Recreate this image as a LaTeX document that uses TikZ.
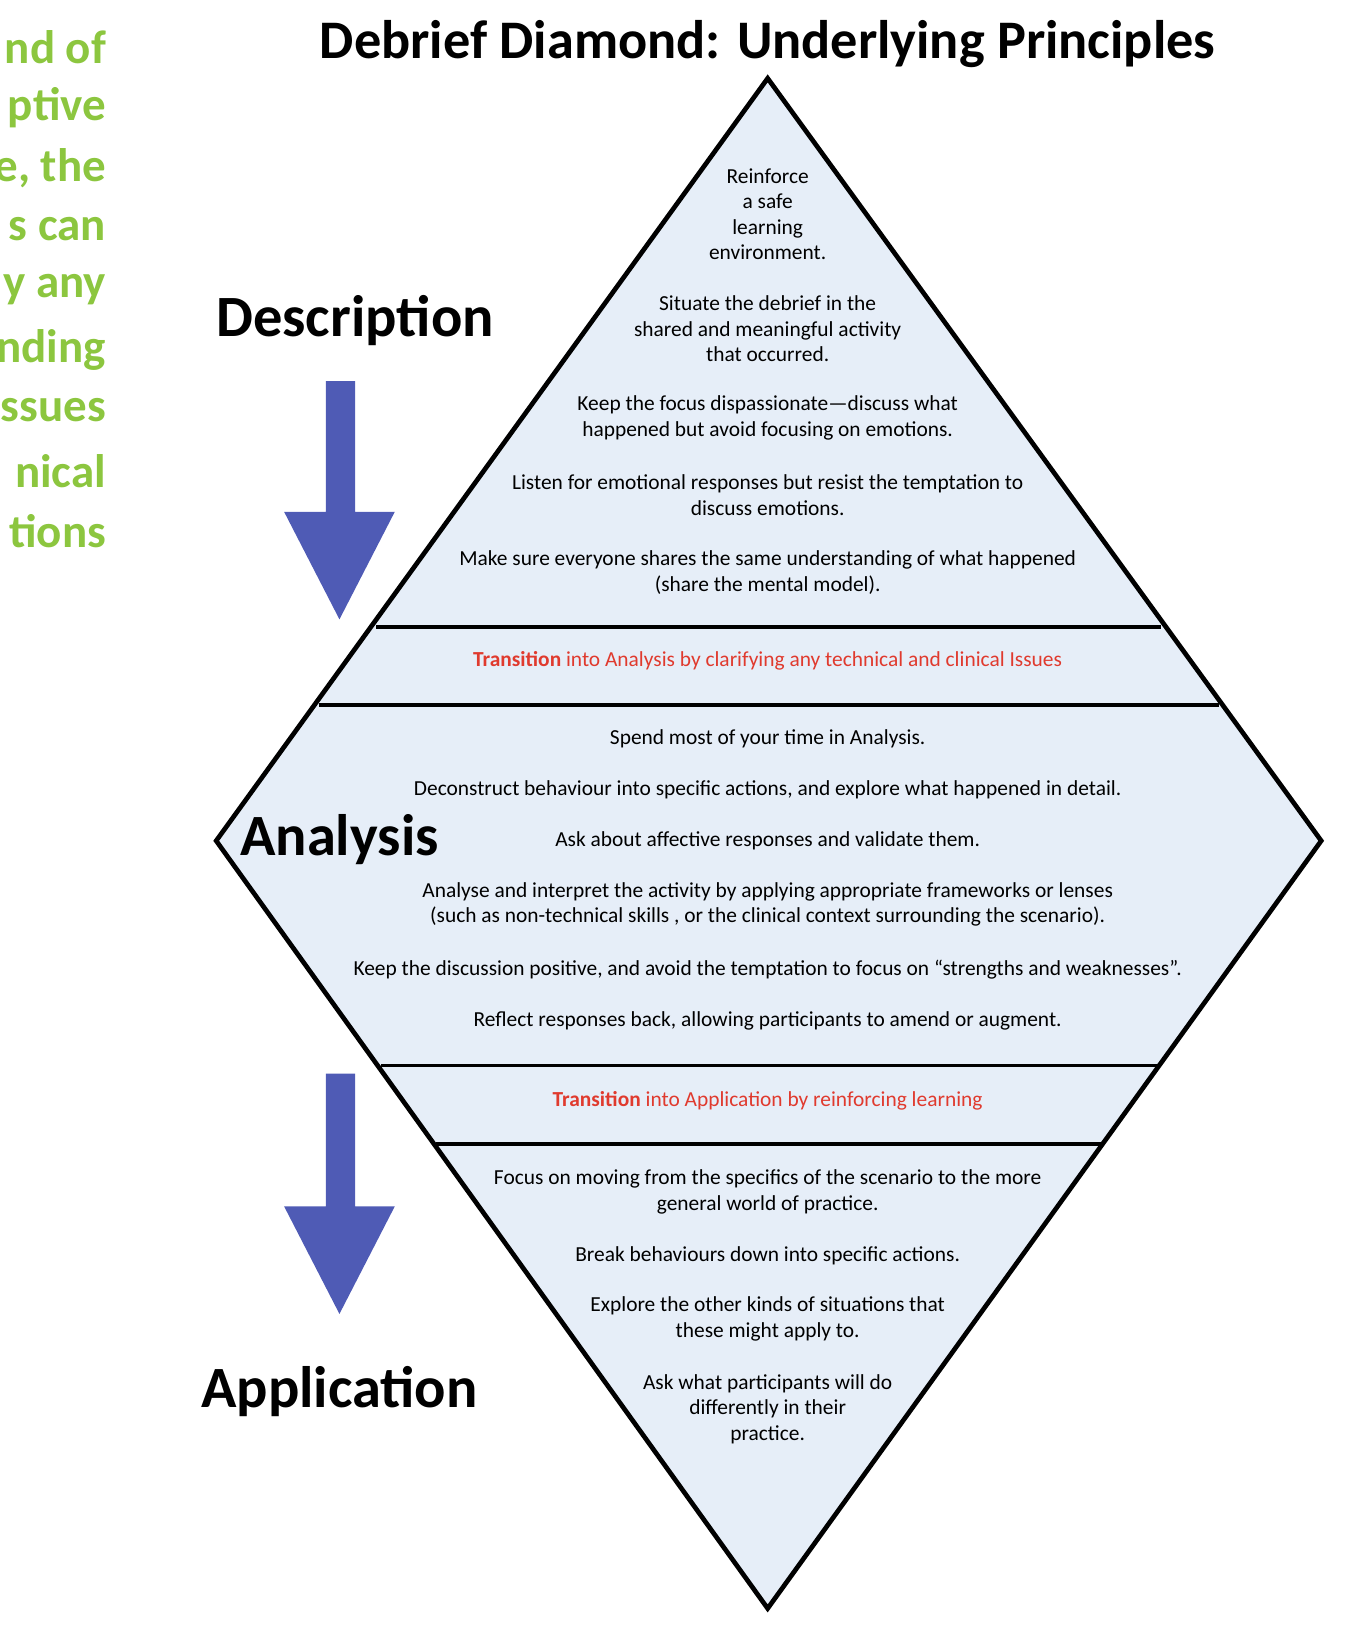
\documentclass[tikz,border=0pt]{standalone}
\usepackage{fontspec}
\setmainfont{Carlito}
\definecolor{panel}{HTML}{E6EEF8}
\definecolor{arrowblue}{HTML}{4F5BB5}
\definecolor{lime}{HTML}{8CC63F}
\definecolor{trans}{HTML}{E03A2E}
\tikzset{
  body/.style={align=center,font=\fontsize{20.5}{24.5}\selectfont},
  head/.style={font=\fontsize{56}{58}\selectfont\bfseries},
  side/.style={anchor=east,text=lime,font=\fontsize{45}{48}\selectfont\bfseries},
  flow/.style={fill=arrowblue,draw=none}
}
\begin{document}
\begin{tikzpicture}[x=1pt,y=-1pt]
\useasboundingbox (0,0) rectangle (1300,1561.6);
% diamond
\coordinate (T) at (735,75);
\coordinate (L) at (207,805);
\coordinate (R) at (1265,805);
\coordinate (B) at (735,1540);
\filldraw[fill=panel,line width=4.5pt,line join=miter] (T)--(R)--(B)--(L)--cycle;
\draw[line width=3.5pt] (360,600)--(1112,600);
\draw[line width=3.5pt] (305,675)--(1167,675);
\draw[line width=3.5pt] (365,1020)--(1110,1020);
\draw[line width=3.5pt] (417,1095)--(1057,1095);
% title and headings
\node[font=\fontsize{52}{54}\selectfont\bfseries] (title) at (735,42) {Debrief Diamond: Underlying Principles};
\node[head] (desc) at (340,307) {Description};
\node[head] (anal) at (325,804) {Analysis};
\node[head] (appl) at (325,1332) {Application};
% cut-off side text
\foreach \t [count=\i] in {nd of,ptive,{e, the},s can,y any,nding,ssues,nical,tions}
  \node[side] (s\i) at (105,45+58*\i-58) {\t};
% arrows
\fill[flow] (312,365)--(340,365)--(340,490)--(378,490)--(325,593)--(272,490)--(312,490)--cycle;
\fill[flow] (312,1028)--(340,1028)--(340,1155)--(378,1155)--(325,1258)--(272,1155)--(312,1155)--cycle;
% description
\node[body] (d1) at (735,205) {Reinforce\\a safe\\learning\\environment.};
\node[body] (d2) at (735,315) {Situate the debrief in the\\shared and meaningful activity\\that occurred.};
\node[body] (d3) at (735,400) {Keep the focus dispassionate—discuss what\\happened but avoid focusing on emotions.};
\node[body] (d4) at (735,474) {Listen for emotional responses but resist the temptation to\\discuss emotions.};
\node[body] (d5) at (735,548) {Make sure everyone shares the same understanding of what happened\\(share the mental model).};
\node[body,text=trans] (t1) at (735,633) {\textbf{Transition} into Analysis by clarifying any technical and clinical Issues};
% analysis
\node[body] (a1) at (735,707) {Spend most of your time in Analysis.};
\node[body] (a2) at (735,756) {Deconstruct behaviour into specific actions, and explore what happened in detail.};
\node[body] (a3) at (735,805) {Ask about affective responses and validate them.};
\node[body] (a4) at (735,866) {Analyse and interpret the activity by applying appropriate frameworks or lenses\\(such as non-technical skills , or the clinical context surrounding the scenario).};
\node[body] (a5) at (735,928) {Keep the discussion positive, and avoid the temptation to focus on “strengths and weaknesses”.};
\node[body] (a6) at (735,977) {Reflect responses back, allowing participants to amend or augment.};
\node[body,text=trans] (t2) at (735,1054) {\textbf{Transition} into Application by reinforcing learning};
% application
\node[body] (p1) at (735,1141) {Focus on moving from the specifics of the scenario to the more\\general world of practice.};
\node[body] (p2) at (735,1202) {Break behaviours down into specific actions.};
\node[body] (p3) at (735,1263) {Explore the other kinds of situations that\\these might apply to.};
\node[body] (p4) at (735,1349) {Ask what participants will do\\differently in their\\practice.};
\end{tikzpicture}
\end{document}
